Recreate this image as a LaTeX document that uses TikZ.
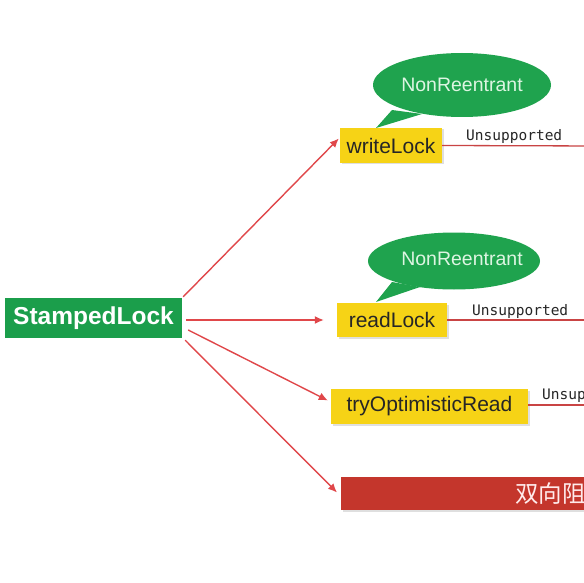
\documentclass[tikz,border=0pt]{standalone}
\usepackage{fontspec}
\setmainfont{Liberation Sans}
\newfontfamily\monofont{DejaVu Sans Mono}
\newfontfamily\cjkfont{Noto Sans CJK SC}
\usetikzlibrary{arrows.meta,shadows,calc}
\definecolor{lockgreen}{HTML}{1B9E4B}
\definecolor{bubgreen}{HTML}{1FA34E}
\definecolor{lockyellow}{HTML}{F6D316}
\definecolor{barred}{HTML}{C4362C}
\definecolor{arrowred}{HTML}{E0474A}
\definecolor{linered}{HTML}{C94444}
\definecolor{bubtext}{HTML}{DDF5E2}
\tikzset{
  ybox/.style={fill=lockyellow, inner sep=0pt, text=black!85,
    font=\fontsize{21}{21}\selectfont,
    drop shadow={opacity=0.25, shadow xshift=1.5pt, shadow yshift=-1.5pt}},
  conn/.style={draw=arrowred, line width=1.4pt, -{Latex[length=9pt,width=8pt]}},
  uline/.style={draw=linered, line width=1.3pt},
  ulabel/.style={font=\monofont\fontsize{14.5}{14.5}\selectfont, text=black!85, inner sep=0pt},
  bubtxt/.style={font=\fontsize{19.5}{19.5}\selectfont, text=bubtext, inner sep=0pt}
}
\begin{document}
\begin{tikzpicture}[x=1pt,y=-1pt]
\useasboundingbox (0,0) rectangle (584,583);
\clip (0,0) rectangle (584,583);
\fill[white] (0,0) rectangle (584,583);

% bubbles
\fill[bubgreen] (462,85) ellipse[x radius=89, y radius=32];
\fill[bubgreen] (392,110) -- (376,128) -- (422,114) -- cycle;
\node[bubtxt] (nr1) at (462,85) {NonReentrant};

\fill[bubgreen] (454,261) ellipse[x radius=86, y radius=28.5];
\fill[bubgreen] (392,282) -- (376,302) -- (420,287) -- cycle;
\node[bubtxt] (nr2) at (462,259) {NonReentrant};

% main node
\node[fill=lockgreen, text=white, minimum width=177pt, minimum height=40pt, inner sep=0pt,
  font=\bfseries\fontsize{24.5}{24.5}\selectfont] (sl) at (93.5,318) {StampedLock};

% method nodes
\node[ybox, minimum width=102pt, minimum height=35pt] (wl) at (391,145.5) {writeLock};
\node[ybox, minimum width=110pt, minimum height=34pt] (rl) at (392,320) {readLock};
\node[ybox, minimum width=197pt, minimum height=35pt] (tor) at (429.5,406.5) {tryOptimisticRead};
\node[fill=barred, minimum width=260pt, minimum height=33pt, inner sep=0pt, anchor=west,
  drop shadow={opacity=0.25, shadow xshift=1.5pt, shadow yshift=-1.5pt}] (bar) at (341,493.5) {};
\node[anchor=west, inner sep=0pt, text=white!92!red, font=\cjkfont\fontsize{23.5}{23.5}\selectfont] (bartxt) at (515,494) {双向阻塞};

% connectors
\draw[conn] ([xshift=1pt,yshift=1pt]sl.north east) -- ([xshift=-1pt,yshift=7pt]wl.west);
\draw[conn] ([xshift=4pt,yshift=-2pt]sl.east) -- ([xshift=-13pt]rl.west);
\draw[conn] ([xshift=6pt,yshift=-12pt]sl.east) -- ([xshift=-3pt,yshift=6pt]tor.west);
\draw[conn] ([xshift=3pt,yshift=-2pt]sl.south east) -- ([xshift=-4pt,yshift=1pt]bar.west);

% unsupported lines
\coordinate (e1) at (600,146);
\coordinate (e2) at (600,320);
\coordinate (e3) at (600,405);
\draw[uline] (wl.east) -- (e1);
\draw[uline] (rl.east) -- (e2);
\draw[uline] ([yshift=1.5pt]tor.east) -- (e3);
\node[ulabel, anchor=west] (u1) at (466,137) {Unsupported};
\node[ulabel, anchor=west] (u2) at (472,311) {Unsupported};
\node[ulabel, anchor=west] (u3) at (542,395) {Unsupported};
\end{tikzpicture}
\end{document}
